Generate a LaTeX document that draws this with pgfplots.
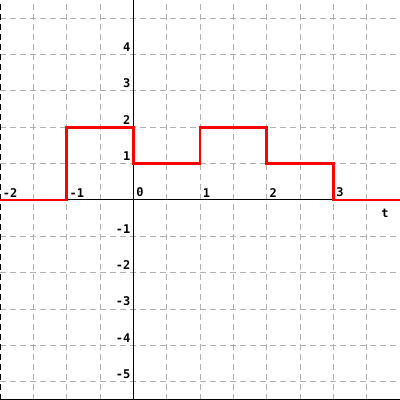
\documentclass[border=0pt]{standalone}
\usepackage{pgfplots}
\pgfplotsset{compat=1.18}
\usepackage{fontspec}
\setmonofont{DejaVu Sans Mono}
\begin{document}
\begin{tikzpicture}
\begin{axis}[
    width=300pt, height=300pt, scale only axis,
    xmin=-2, xmax=4, ymin=-5.5, ymax=5.5,
    axis lines=middle,
    axis line style={black, line width=0.75pt, -},
    hide obscured x ticks=false,
    xtick={-2,...,3}, xticklabels={-2,-1,0,1,2,3},
    ytick={-5,-4,-3,-2,-1,1,2,3,4}, yticklabels={-5,-4,-3,-2,-1,1,2,3,4},
    minor xtick={-1.5,-0.5,0.5,1.5,2.5,3.5,4},
    minor ytick={5},
    grid=both,
    major tick length=0pt, minor tick length=0pt,
    major grid style={gray!60, line width=0.75pt, dash pattern=on 4.5pt off 3pt},
    minor grid style={gray!60, line width=0.75pt, dash pattern=on 4.5pt off 3pt},
    ticklabel style={font=\ttfamily\bfseries\fontsize{9}{10}\selectfont, inner sep=2pt},
    xticklabel style={anchor=south west},
    yticklabel style={anchor=south east},
    clip=true,
  ]
  % frame
  \draw[black, line width=0.75pt] (rel axis cs:0,1) -- (rel axis cs:1,1);
  \draw[black, line width=0.75pt] (rel axis cs:0,0) -- (rel axis cs:1,0);
  \draw[black, line width=0.75pt, dash pattern=on 4.5pt off 3pt] (rel axis cs:0,0) -- (rel axis cs:0,1);

  \addplot[red, line width=2.2pt, line join=miter, mark=none] coordinates {
    (-2,0) (-1,0) (-1,2) (0,2) (0,1) (1,1) (1,2) (2,2) (2,1) (3,1) (3,0) (4,0)
  };

  \node[font=\ttfamily\bfseries\fontsize{9}{10}\selectfont] at (axis cs:3.775,-0.36) {t};
\end{axis}
\pgfresetboundingbox
\path[use as bounding box] (current axis.south west) rectangle (current axis.north east);
\end{tikzpicture}
\end{document}
